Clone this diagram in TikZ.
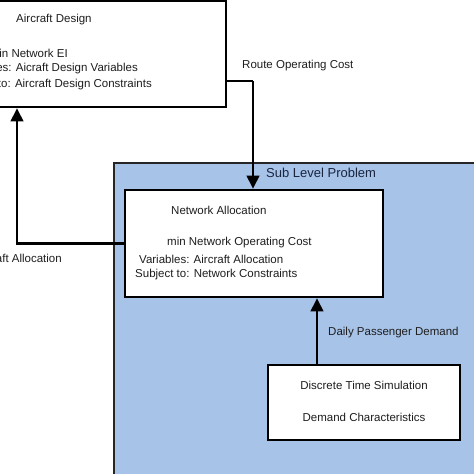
\documentclass[tikz,border=0pt]{standalone}
\usepackage{fontspec}
\setmainfont{Liberation Sans}
\usetikzlibrary{arrows.meta}
\definecolor{subblue}{HTML}{A7C3E8}
\definecolor{txt}{HTML}{1E1E1E}
\definecolor{subtxt}{HTML}{1A2540}
\begin{document}
\begin{tikzpicture}[x=1pt,y=-1pt,
  box/.style={draw=black,line width=2.6pt,fill=white,rectangle,inner sep=0pt},
  grp/.style={draw=black!85,line width=1.8pt,fill=subblue,rectangle,inner sep=0pt},
  lbl/.style={font=\fontsize{11.5}{13}\selectfont,text=txt,inner sep=0pt},
  arr/.style={line width=2.4pt,-{Triangle[length=13pt,width=12.5pt]}},
  conn/.style={line width=2.4pt}]
\useasboundingbox (0,0) rectangle (474,474);
\clip (0,0) rectangle (474,474);
% group
\node[grp,minimum width=400pt,minimum height=330pt,anchor=north west] (sub) at (113,162) {};
\node[font=\fontsize{13}{15}\selectfont,text=subtxt,inner sep=0pt,anchor=west] (subt) at (266,173) {Sub Level Problem};
% boxes
\node[box,minimum width=278pt,minimum height=106pt] (ad) at (87,54) {};
\node[box,minimum width=258pt,minimum height=107pt] (na) at (254,243.5) {};
\node[box,minimum width=192pt,minimum height=75pt] (ds) at (364,402.5) {};
% Aircraft design texts
\node[lbl,anchor=west] (ad1) at (16,20) {Aircraft Design};
\node[lbl,anchor=east] (ad2) at (68,53) {min Network EI};
\node[lbl,anchor=east] (ad3) at (138,69) {Variables: Aicraft Design Variables};
\node[lbl,anchor=east] (ad4) at (152,85) {Subject to: Aircraft Design Constraints};
% Network allocation texts
\node[lbl,anchor=west] (na1) at (171,210) {Network Allocation};
\node[lbl,anchor=west] (na2) at (167,243) {min Network Operating Cost};
\node[lbl,anchor=west] (na3) at (139,259) {Variables: Aircraft Allocation};
\node[lbl,anchor=west] (na4) at (135,275) {Subject to: Network Constraints};
% Discrete texts
\node[lbl] (ds1) at (364,385) {Discrete Time Simulation};
\node[lbl] (ds2) at (364,417) {Demand Characteristics};
% connectors
\coordinate (r1) at (253,81);
\coordinate (l1) at (17,243.5);
\coordinate (d1) at (317,0);
\draw[conn] (ad.east |- r1) -- (r1);
\draw[arr] (r1) -- (r1 |- na.north);
\draw[arr] (na.west) -| (ad.south -| l1);
\draw[arr] (ds.north -| d1) -- (na.south -| d1);
% connector labels
\node[lbl,anchor=west] (lr) at (242,66) {Route Operating Cost};
\node[lbl,anchor=east] (ll) at (62,258) {Aircraft Allocation};
\node[lbl,anchor=west] (lp) at (328,333) {Daily Passenger Demand};
\end{tikzpicture}
\end{document}
